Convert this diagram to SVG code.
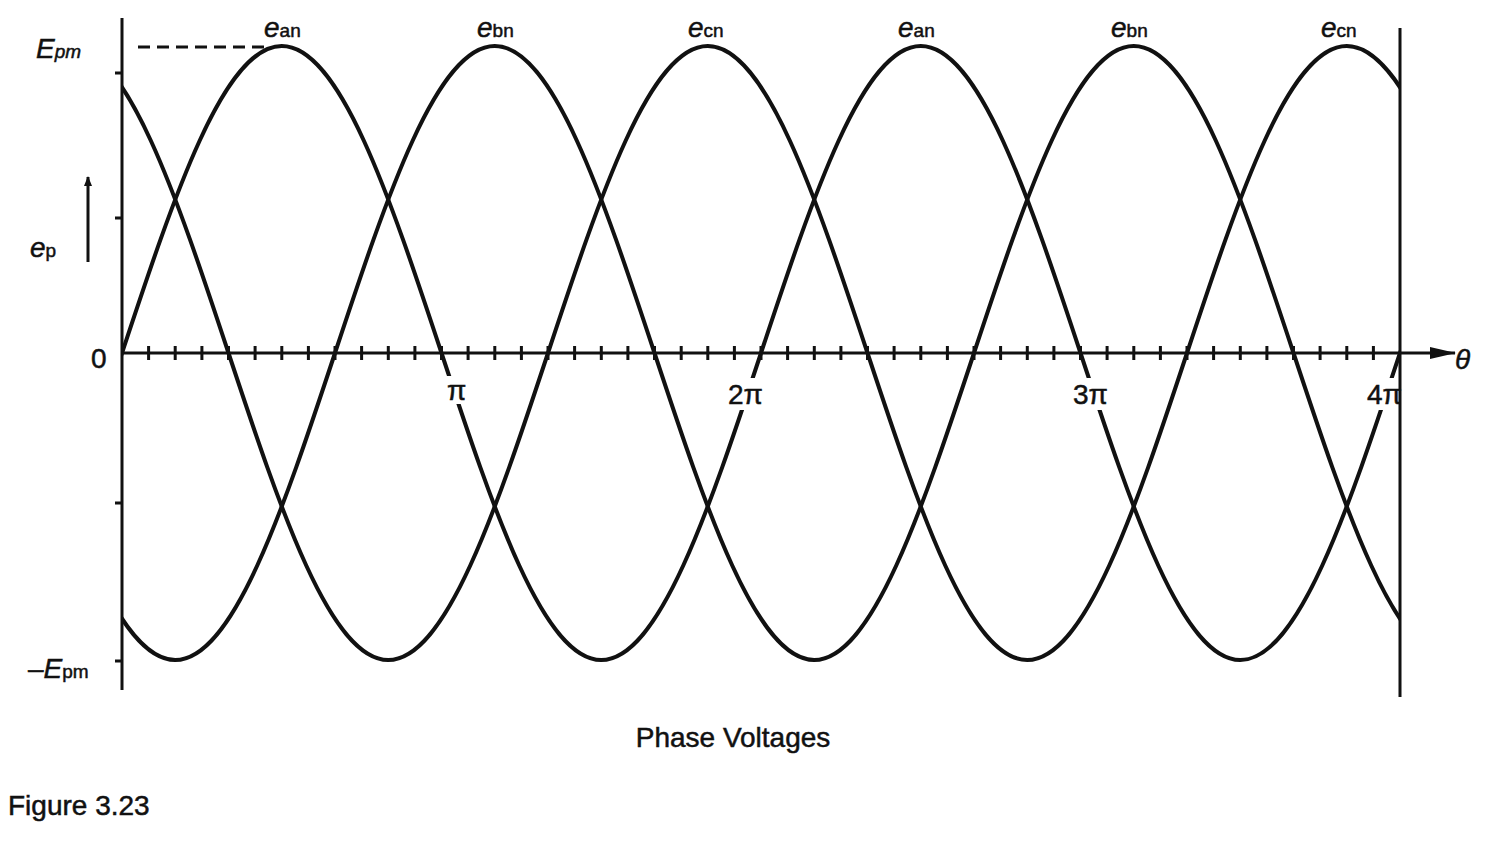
<svg xmlns="http://www.w3.org/2000/svg" width="1501" height="850" viewBox="0 0 1501 850">
<style>
.c{fill:none;stroke:#111;stroke-width:4}
.ax{fill:none;stroke:#111;stroke-width:3}
.t{font-family:"Liberation Sans",Arial,sans-serif;fill:#111;font-size:28px;stroke:#111;stroke-width:0.5}
.i{font-style:italic}
.s{font-size:19px}
.bg{fill:#fff}
</style>
<defs>
<clipPath id="cp"><rect x="122" y="0" width="1278" height="850"/></clipPath>
<marker id="ah" markerWidth="10" markerHeight="8" refX="9" refY="4" orient="auto" markerUnits="userSpaceOnUse" viewBox="0 0 10 8"><path d="M0,0L10,4L0,8z" fill="#111"/></marker>
<marker id="ah2" markerWidth="26" markerHeight="12" refX="25" refY="6" orient="auto" markerUnits="userSpaceOnUse" viewBox="0 0 26 12"><path d="M0,0L26,6L0,12z" fill="#111"/></marker>
</defs>
<g id="curves" clip-path="url(#cp)">
<path id="ean" class="c" d="M-517,353 c52.16,-157.4 101.9,-307 159.75,-307 c57.85,0 107.59,149.6 159.75,307 c52.16,157.4 101.9,307 159.75,307 c57.85,0 107.59,-149.6 159.75,-307 c52.16,-157.4 101.9,-307 159.75,-307 c57.85,0 107.59,149.6 159.75,307 c52.16,157.4 101.9,307 159.75,307 c57.85,0 107.59,-149.6 159.75,-307 c52.16,-157.4 101.9,-307 159.75,-307 c57.85,0 107.59,149.6 159.75,307 c52.16,157.4 101.9,307 159.75,307 c57.85,0 107.59,-149.6 159.75,-307 c52.16,-157.4 101.9,-307 159.75,-307 c57.85,0 107.59,149.6 159.75,307 c52.16,157.4 101.9,307 159.75,307 c57.85,0 107.59,-149.6 159.75,-307"/>
<path id="ebn" class="c" d="M-304,353 c52.16,-157.4 101.9,-307 159.75,-307 c57.85,0 107.59,149.6 159.75,307 c52.16,157.4 101.9,307 159.75,307 c57.85,0 107.59,-149.6 159.75,-307 c52.16,-157.4 101.9,-307 159.75,-307 c57.85,0 107.59,149.6 159.75,307 c52.16,157.4 101.9,307 159.75,307 c57.85,0 107.59,-149.6 159.75,-307 c52.16,-157.4 101.9,-307 159.75,-307 c57.85,0 107.59,149.6 159.75,307 c52.16,157.4 101.9,307 159.75,307 c57.85,0 107.59,-149.6 159.75,-307"/>
<path id="ecn" class="c" d="M-91,353 c52.16,-157.4 101.9,-307 159.75,-307 c57.85,0 107.59,149.6 159.75,307 c52.16,157.4 101.9,307 159.75,307 c57.85,0 107.59,-149.6 159.75,-307 c52.16,-157.4 101.9,-307 159.75,-307 c57.85,0 107.59,149.6 159.75,307 c52.16,157.4 101.9,307 159.75,307 c57.85,0 107.59,-149.6 159.75,-307 c52.16,-157.4 101.9,-307 159.75,-307 c57.85,0 107.59,149.6 159.75,307 c52.16,157.4 101.9,307 159.75,307 c57.85,0 107.59,-149.6 159.75,-307"/>
</g>
<g id="axes">
<line class="ax" x1="122" y1="18" x2="122" y2="690"/>
<line class="ax" x1="1400" y1="28" x2="1400" y2="697"/>
<line class="ax" x1="122" y1="353" x2="1455" y2="353" marker-end="url(#ah2)"/>
<path class="ax" d="M115,73H122M115,218H122M115,503H122M115,661H122"/>
<path class="ax" stroke-width="2" d="M148.6,346v14M175.2,346v14M201.9,346v14M228.5,346v14M255.1,346v14M281.8,346v14M308.4,346v14M335,346v14M361.6,346v14M388.3,346v14M414.9,346v14M441.5,346v14M468.1,346v14M494.8,346v14M521.4,346v14M548,346v14M574.6,346v14M601.3,346v14M627.9,346v14M654.5,346v14M681.2,346v14M707.8,346v14M734.4,346v14M761,346v14M787.6,346v14M814.3,346v14M840.9,346v14M867.5,346v14M894.1,346v14M920.8,346v14M947.4,346v14M974,346v14M1000.6,346v14M1027.3,346v14M1053.9,346v14M1080.5,346v14M1107.1,346v14M1133.8,346v14M1160.4,346v14M1187,346v14M1213.6,346v14M1240.3,346v14M1266.9,346v14M1293.5,346v14M1320.1,346v14M1346.8,346v14M1373.4,346v14"/>
<line class="ax" stroke-dasharray="12,7" x1="138" y1="47" x2="264" y2="47"/>
<line class="ax" stroke-width="2" x1="88" y1="262" x2="88" y2="177" marker-end="url(#ah)"/>
</g>
<g id="labels">
<rect class="bg" x="444" y="376" width="24" height="28"/>
<rect class="bg" x="726" y="378" width="44" height="32"/>
<rect class="bg" x="1071" y="378" width="46" height="32"/>
<rect class="bg" x="1365" y="378" width="33" height="32"/>
<text class="t" x="264" y="37"><tspan class="i">e</tspan><tspan class="s">an</tspan></text>
<text class="t" x="477" y="37"><tspan class="i">e</tspan><tspan class="s">bn</tspan></text>
<text class="t" x="688" y="37"><tspan class="i">e</tspan><tspan class="s">cn</tspan></text>
<text class="t" x="898" y="37"><tspan class="i">e</tspan><tspan class="s">an</tspan></text>
<text class="t" x="1111" y="37"><tspan class="i">e</tspan><tspan class="s">bn</tspan></text>
<text class="t" x="1321" y="37"><tspan class="i">e</tspan><tspan class="s">cn</tspan></text>
<text class="t" x="36" y="58"><tspan class="i">E</tspan><tspan class="s i">pm</tspan></text>
<text class="t" x="30" y="257"><tspan class="i">e</tspan><tspan class="s">p</tspan></text>
<text class="t" x="91" y="368">0</text>
<text class="t" x="28" y="678">–<tspan class="i">E</tspan><tspan class="s">pm</tspan></text>
<text class="t" x="447" y="400">π</text>
<text class="t" x="728" y="404">2π</text>
<text class="t" x="1073" y="404">3π</text>
<text class="t" x="1367" y="404">4π</text>
<text class="t i" x="1455" y="369">θ</text>
<text class="t" x="733" y="747" text-anchor="middle">Phase Voltages</text>
<text class="t" x="8" y="815" font-size="30">Figure 3.23</text>
</g>
</svg>
